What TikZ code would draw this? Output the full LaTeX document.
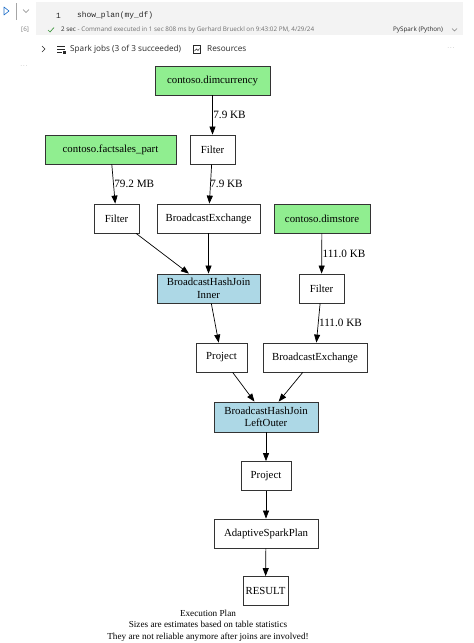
\documentclass[tikz,border=0pt]{standalone}
\usepackage{fontspec}
\setmainfont{Liberation Serif}
\newfontfamily\uifont{Open Sans}
\newfontfamily\codefont{Liberation Mono}
\usetikzlibrary{arrows.meta}
\definecolor{boxgreen}{RGB}{144,238,144}
\definecolor{boxblue}{RGB}{173,216,230}
\definecolor{cellgray}{RGB}{243,243,243}
\definecolor{uigray}{RGB}{110,110,110}
\definecolor{uitext}{RGB}{40,40,40}
\definecolor{playblue}{RGB}{30,110,200}
\definecolor{checkgreen}{RGB}{60,150,60}
\tikzset{
  opbox/.style={draw=black!80, line width=0.8pt, fill=white, minimum height=29pt,
    inner sep=1pt, align=center, font=\fontsize{10.8}{12.5}\selectfont},
  srcbox/.style={opbox, fill=boxgreen},
  joinbox/.style={opbox, fill=boxblue},
  conn/.style={-{Triangle[length=8pt,width=6pt]}, line width=0.7pt, black},
  lbl/.style={anchor=west, inner sep=0.5pt, font=\fontsize{11.2}{12}\selectfont},
  uitxt/.style={inner sep=0pt, anchor=west, text=uitext, font=\uifont\fontsize{8.2}{9}\selectfont},
  uismall/.style={inner sep=0pt, anchor=west, text=uigray, font=\uifont\fontsize{6.3}{8}\selectfont}
}
\begin{document}
\begin{tikzpicture}[x=1pt,y=-1pt]
\useasboundingbox (0,0) rectangle (474,643);
% ---------- notebook header ----------
\fill[cellgray] (36,2) rectangle (463,35);
\draw[playblue, line width=0.6pt, line join=round] (4,7) -- (9,11) -- (4,15) -- cycle;
\draw[gray!70, line width=0.4pt] (16,3) -- (16,20);
\draw[gray, line width=0.5pt] (23,9.5) -- (26,12.5) -- (29,9.5);
\node[uitxt, font=\codefont\fontsize{7.9}{9}\selectfont] (lnum) at (56,15.5) {1};
\node[uitxt, font=\codefont\fontsize{7.9}{9}\selectfont] (code) at (77,15.5) {show\_plan(my\_df)};
\node[uismall, text=gray] (cnt) at (21,30) {[6]};
\draw[checkgreen, line width=0.7pt] (48,30) -- (50,32) -- (54,27.5);
\node[uismall] (status) at (61,30) {\textcolor{uitext}{2 sec} - Command executed in 1 sec 808 ms by Gerhard Brueckl on 9:43:02 PM, 4/29/24};
\node[uismall, text=uitext] (lang) at (393,30) {PySpark (Python)};
\draw[gray, line width=0.5pt] (452,28.5) -- (454.5,31) -- (457,28.5);
\draw[uitext, line width=0.6pt] (42,46) -- (45,49) -- (42,52);
\draw[uitext, line width=0.7pt] (57,46) -- (65,46) (57,49) -- (65,49) (57,52) -- (62,52);
\fill[uitext] (62.5,50.5) rectangle (65.5,53.5);
\node[uitxt] (jobs) at (70,49) {Spark jobs (3 of 3 succeeded)};
\draw[uitext, line width=0.5pt] (193,45.5) rectangle (200.5,53);
\draw[uitext, line width=0.5pt] (194.5,51) -- (196.5,49) -- (198,50.5) -- (199.5,48.5);
\node[uitxt] (res) at (207,49) {Resources};
\node[uismall, text=gray] (more1) at (447,48) {$\cdot\!\cdot\!\cdot$};
\node[uismall, text=gray] (more2) at (20,66) {$\cdot\!\cdot\!\cdot$};
% ---------- plan graph ----------
\node[srcbox, minimum width=115pt] (dimcur) at (212.5,80.5) {contoso.dimcurrency};
\node[opbox, minimum width=45pt] (filter1) at (212.5,149.5) {Filter};
\node[srcbox, minimum width=131pt] (facts) at (110.5,149.5) {contoso.factsales\_part};
\node[opbox, minimum width=45pt] (filter2) at (116.5,218.5) {Filter};
\node[opbox, minimum width=103pt] (bex1) at (208.5,218.5) {BroadcastExchange};
\node[srcbox, minimum width=96pt] (dimstore) at (322,218.5) {contoso.dimstore};
\node[joinbox, minimum width=103pt] (bhji) at (208.5,288.5) {BroadcastHashJoin\\Inner};
\node[opbox, minimum width=45pt] (filter3) at (321.5,288.5) {Filter};
\node[opbox, minimum width=51pt] (proj1) at (221.5,357.5) {Project};
\node[opbox, minimum width=104pt] (bex2) at (315,357.5) {BroadcastExchange};
\node[joinbox, minimum width=104pt, minimum height=30pt] (bhjl) at (266,417) {BroadcastHashJoin\\LeftOuter};
\node[opbox, minimum width=50pt] (proj2) at (266,476) {Project};
\node[opbox, minimum width=104pt] (asp) at (266,533.5) {AdaptiveSparkPlan};
\node[opbox, minimum width=45pt, inner sep=0pt] (result) at (265.5,591) {RESULT};
\node[align=center, inner sep=0pt, font=\fontsize{9.2}{11.4}\selectfont] (caption) at (208,625.5)
  {Execution Plan\\Sizes are estimates based on table statistics\\They are not reliable anymore after joins are involved!};
% ---------- connectors ----------
\draw[conn] (dimcur) -- node[lbl]{7.9 KB} (filter1);
\draw[conn] (filter1) -- node[lbl, xshift=-1pt]{7.9 KB} (bex1);
\draw[conn] (facts) -- node[lbl]{79.2 MB} (filter2);
\draw[conn] (filter2) -- (bhji);
\draw[conn] (bex1) -- (bhji);
\draw[conn] (dimstore) -- node[lbl]{111.0 KB} (filter3);
\draw[conn] (filter3) -- node[lbl]{111.0 KB} (bex2);
\draw[conn] (bhji) -- (proj1);
\draw[conn] (proj1) -- (bhjl);
\draw[conn] (bex2) -- (bhjl);
\draw[conn] (bhjl) -- (proj2);
\draw[conn] (proj2) -- (asp);
\draw[conn] (asp) -- (result);
\end{tikzpicture}
\end{document}
